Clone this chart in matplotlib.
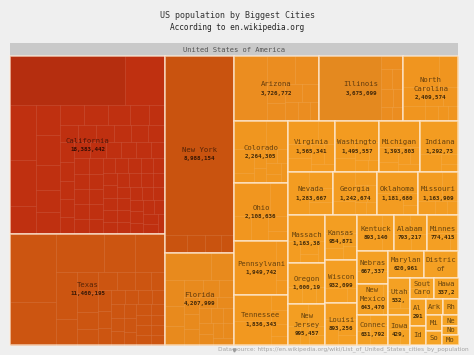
import matplotlib
matplotlib.use("Agg")
import matplotlib.pyplot as plt
from matplotlib.patches import Rectangle
from matplotlib.colors import LinearSegmentedColormap, to_rgb

# ---------------- data ----------------
title = "US population by Biggest Cities"
subtitle = "According to en.wikipedia.org"
root_name = "United States of America"
credit = "Data source: https://en.wikipedia.org/wiki/List_of_United_States_cities_by_population"

states = ["California", "Texas", "New York", "Florida", "Arizona", "Illinois",
          "North Carolina", "Colorado", "Ohio", "Pennsylvania", "Tennessee",
          "Virginia", "Washington", "Michigan", "Indiana", "Nevada", "Georgia",
          "Oklahoma", "Missouri", "Massachusetts", "Oregon", "New Jersey",
          "Kansas", "Wisconsin", "Louisiana", "Kentucky", "Alabama", "Minnesota",
          "Nebraska", "New Mexico", "Connecticut", "Maryland",
          "District of Columbia", "Utah", "Iowa", "South Carolina", "Hawaii",
          "Alaska", "Idaho", "Arkansas", "Rhode Island", "Mississippi",
          "South Dakota", "New Hampshire", "North Dakota", "Montana"]
state_pop = [18383442, 11460195, 8988154, 4207999, 3726772, 3675099,
             2409574, 2264305, 2108636, 1949742, 1836343,
             1565341, 1495557, 1393803, 1292733, 1283667, 1242674,
             1181680, 1163909, 1163380, 1000192, 995457,
             954871, 932099, 893256, 893140, 793217, 774415,
             667337, 643470, 631792, 620961,
             601723, 532120, 429444, 346826, 337256,
             291826, 205671, 193524, 178042, 173514,
             153888, 109565, 105549, 104170]

city_pop = {
    "California": [3792621, 1307402, 945942, 805235, 494665, 466488, 462257, 390724,
                   347483, 336265, 324528, 303871, 291707, 243916, 214089, 212375,
                   209924, 201165, 197899, 196069, 193365, 191719, 189992, 176320,
                   170883, 167815, 167086, 165269, 163924, 156633, 153015, 152750,
                   152374, 150441, 149058, 145438, 144186, 143911, 140081, 137122,
                   136416, 135161, 126683, 124442, 124237, 122067, 118788, 116468,
                   115942, 115903, 113475, 112580, 111772, 109960, 109673, 106433,
                   106098, 105549, 105328, 105321, 103701, 103466, 103340, 102372,
                   101123, 100097, 99553, 99478, 99171, 97207, 95631],
    "Texas": [2099451, 1327407, 1197816, 790390, 741206, 649121, 365438, 305215,
              259841, 236091, 229573, 226876, 216290, 190695, 175396, 175023,
              149043, 139824, 131117, 129877, 127921, 124805, 119097, 118296,
              117063, 116989, 113383, 111147, 104553, 99940, 99887, 99223,
              96900, 95290, 93857, 93200],
    "New York": [8175133, 261310, 210565, 195976, 145170],
    "Florida": [821784, 399457, 335709, 244769, 238300, 224669, 181376, 165521,
                164603, 154750, 154305, 140768, 124354, 122041, 121096, 107685,
                107167, 103190, 99919, 99845, 97422],
    "Arizona": [1445632, 520116, 439041, 236123, 226721, 217385, 208453, 161719,
                154065, 117517],
    "Illinois": [2695598, 197899, 152871, 147433, 141853, 116250, 115007, 108188],
    "North Carolina": [731424, 403892, 269666, 229617, 228330, 200564, 135234,
                       106476, 104371],
    "Colorado": [600158, 416427, 325078, 143986, 142980, 118772, 106595, 106433,
                 106114, 100377, 97385],
    "Ohio": [787033, 396815, 296943, 287208, 199110, 141527],
    "Pennsylvania": [1526006, 305704, 118032],
    "Tennessee": [646889, 601222, 178874, 167674, 132929, 108755],
    "Virginia": [437994, 242803, 222209, 204214, 180719, 139966, 137436],
    "Washington": [608660, 208916, 198397, 161791, 122363, 103019, 92411],
    "Michigan": [713777, 188040, 134056, 129699, 114297, 113934],
    "Indiana": [820445, 253691, 117429, 101168],
    "Nevada": [583756, 257729, 225221, 216961],
    "Georgia": [420003, 195844, 189885, 136286, 115452, 93853, 91351],
    "Oklahoma": [579999, 391906, 110925, 98850],
    "Missouri": [459787, 319294, 159498, 116830, 108500],
    "Massachusetts": [617594, 181045, 153060, 106519, 105162],
    "Oregon": [583776, 156185, 154637, 105594],
    "New Jersey": [277140, 247597, 146199, 124969, 99967, 99585],
    "Kansas": [382368, 173372, 145786, 127473, 125872],
    "Wisconsin": [594833, 233209, 104057],
    "Louisiana": [343829, 229493, 199311, 120623],
    "Kentucky": [597337, 295803],
    "Alabama": [212237, 205764, 195111, 180105],
    "Minnesota": [382578, 285068, 106769],
    "Nebraska": [408958, 258379],
    "New Mexico": [545852, 97618],
    "Connecticut": [144229, 129779, 124775, 122643, 110366],
    "Utah": [186440, 129480, 112488, 103712],
    "South Carolina": [129272, 120083, 97471],
    "Iowa": [203433, 126326, 99685],
}

# ---------------- style ----------------
W, H = 474, 355
BG = "#efefef"
X0, Y0, X1, Y1 = 10.0, 56.0, 458.5, 345.0
MONO = "DejaVu Sans Mono"
NAME_PT, VALUE_PT = 5.2, 4.2
NAME_CW, VALUE_CW = 4.28, 3.85     # px per char used for fitting
PAD_X, PAD_Y, LINE_H = 4.0, 2.0, 8.8

cmap = LinearSegmentedColormap.from_list("pop", [
    (0.00, "#f5a425"), (0.10, "#f2981f"), (0.20, "#eb8d20"), (0.24, "#e6881c"),
    (0.49, "#c9530f"), (0.63, "#cc5511"), (1.00, "#bf3010")])


def squarify(values, x, y, w, h):
    total = float(sum(values))
    areas = [v * w * h / total for v in values]
    rects, i, n = [], 0, len(areas)
    while i < n:
        vertical = h <= w
        side = h if vertical else w

        def ratio(a, s):
            t = s / side
            l = a / t
            return max(t / l, l / t)
        row = [areas[i]]
        j = i + 1
        while j < n:
            if ratio(areas[j], sum(row) + areas[j]) > ratio(row[-1], sum(row)):
                break
            row.append(areas[j])
            j += 1
        t = sum(row) / side
        pos = y if vertical else x
        for a in row:
            l = a / t
            rects.append((x, pos, t, l) if vertical else (pos, y, l, t))
            pos += l
        if vertical:
            x += t; w -= t
        else:
            y += t; h -= t
        i = j
    return rects


def fit_lines(name, value, w, h):
    avail = w - PAD_X
    nmax = max(1, int(avail // NAME_CW))
    lines, cur = [], ""
    for word in name.split():
        cand = (cur + " " + word).strip()
        if len(cand) <= nmax:
            cur = cand
        else:
            if cur:
                lines.append(cur)
            cur = word[:nmax]
    if cur:
        lines.append(cur)
    out = [(l, False) for l in lines]
    vmax = max(1, int(avail // VALUE_CW))
    out.append((value[:vmax], True))
    nfit = max(1, int((h - PAD_Y) // LINE_H))
    return out[:nfit]


def shade(c, f):
    r, g, b = to_rgb(c)
    return (r * f, g * f, b * f)


fig = plt.figure(figsize=(W / 100, H / 100), dpi=100, facecolor=BG)
ax = fig.add_axes([0, 0, 1, 1])
ax.set_xlim(0, W)
ax.set_ylim(H, 0)
ax.axis("off")

fig.text(0.5, 1 - 16 / H, title, ha="center", va="center", family=MONO,
         fontsize=6.0, color="#333333")
fig.text(0.5, 1 - 27 / H, subtitle, ha="center", va="center", family=MONO,
         fontsize=5.6, color="#222222")

# root header
ax.add_patch(Rectangle((X0, 43), X1 - X0, Y0 - 43, facecolor="#c9c9c9",
                       edgecolor="none"))
ax.text((X0 + X1) / 2, 49.5, root_name, ha="center", va="center", family=MONO,
        fontsize=5.1, color="#555555")

vmax_state = max(state_pop)
state_rects = squarify(state_pop, X0, Y0, X1 - X0, Y1 - Y0)
for name, pop, (x, y, w, h) in zip(states, state_pop, state_rects):
    col = cmap(pop / vmax_state)
    ax.add_patch(Rectangle((x, y), w, h, facecolor=col, edgecolor="none"))
    cities = city_pop.get(name, [pop])
    if len(cities) > 1:
        for k, (cx, cy, cw, ch) in enumerate(squarify(cities, x, y, w, h)):
            big = k == 0 and cities[0] > 2500000 and name != "New York"
            fc = shade(col, 0.95 if name == "California" else 0.97) if big else col
            ax.add_patch(Rectangle((cx, cy), cw, ch, facecolor=fc,
                                   edgecolor=(1, 1, 1, 0.08), linewidth=0.6))
    ax.add_patch(Rectangle((x, y), w, h, facecolor="none",
                           edgecolor=(1, 0.93, 0.85, 0.75), linewidth=1.1))
    lines = fit_lines(name, f"{pop:,}", w, h)
    n = len(lines)
    cy0 = y + h / 2 - (n - 1) * LINE_H / 2
    for k, (txt, is_val) in enumerate(lines):
        ax.text(x + w / 2, cy0 + k * LINE_H, txt, ha="center", va="center",
                family=MONO, fontsize=VALUE_PT if is_val else NAME_PT,
                fontweight="bold" if is_val else "normal",
                color=shade(col, 0.28 if is_val else 0.42), clip_on=True)

fig.text(469 / W, 1 - 349.5 / H, credit, ha="right", va="center",
         family="DejaVu Sans", fontsize=4.2, color="#a5a5a5")
ax.plot([234], [349.5], marker="v", markersize=2.2, color="#9a9a9a")

fig.savefig("out.png", dpi=100, facecolor=BG)
